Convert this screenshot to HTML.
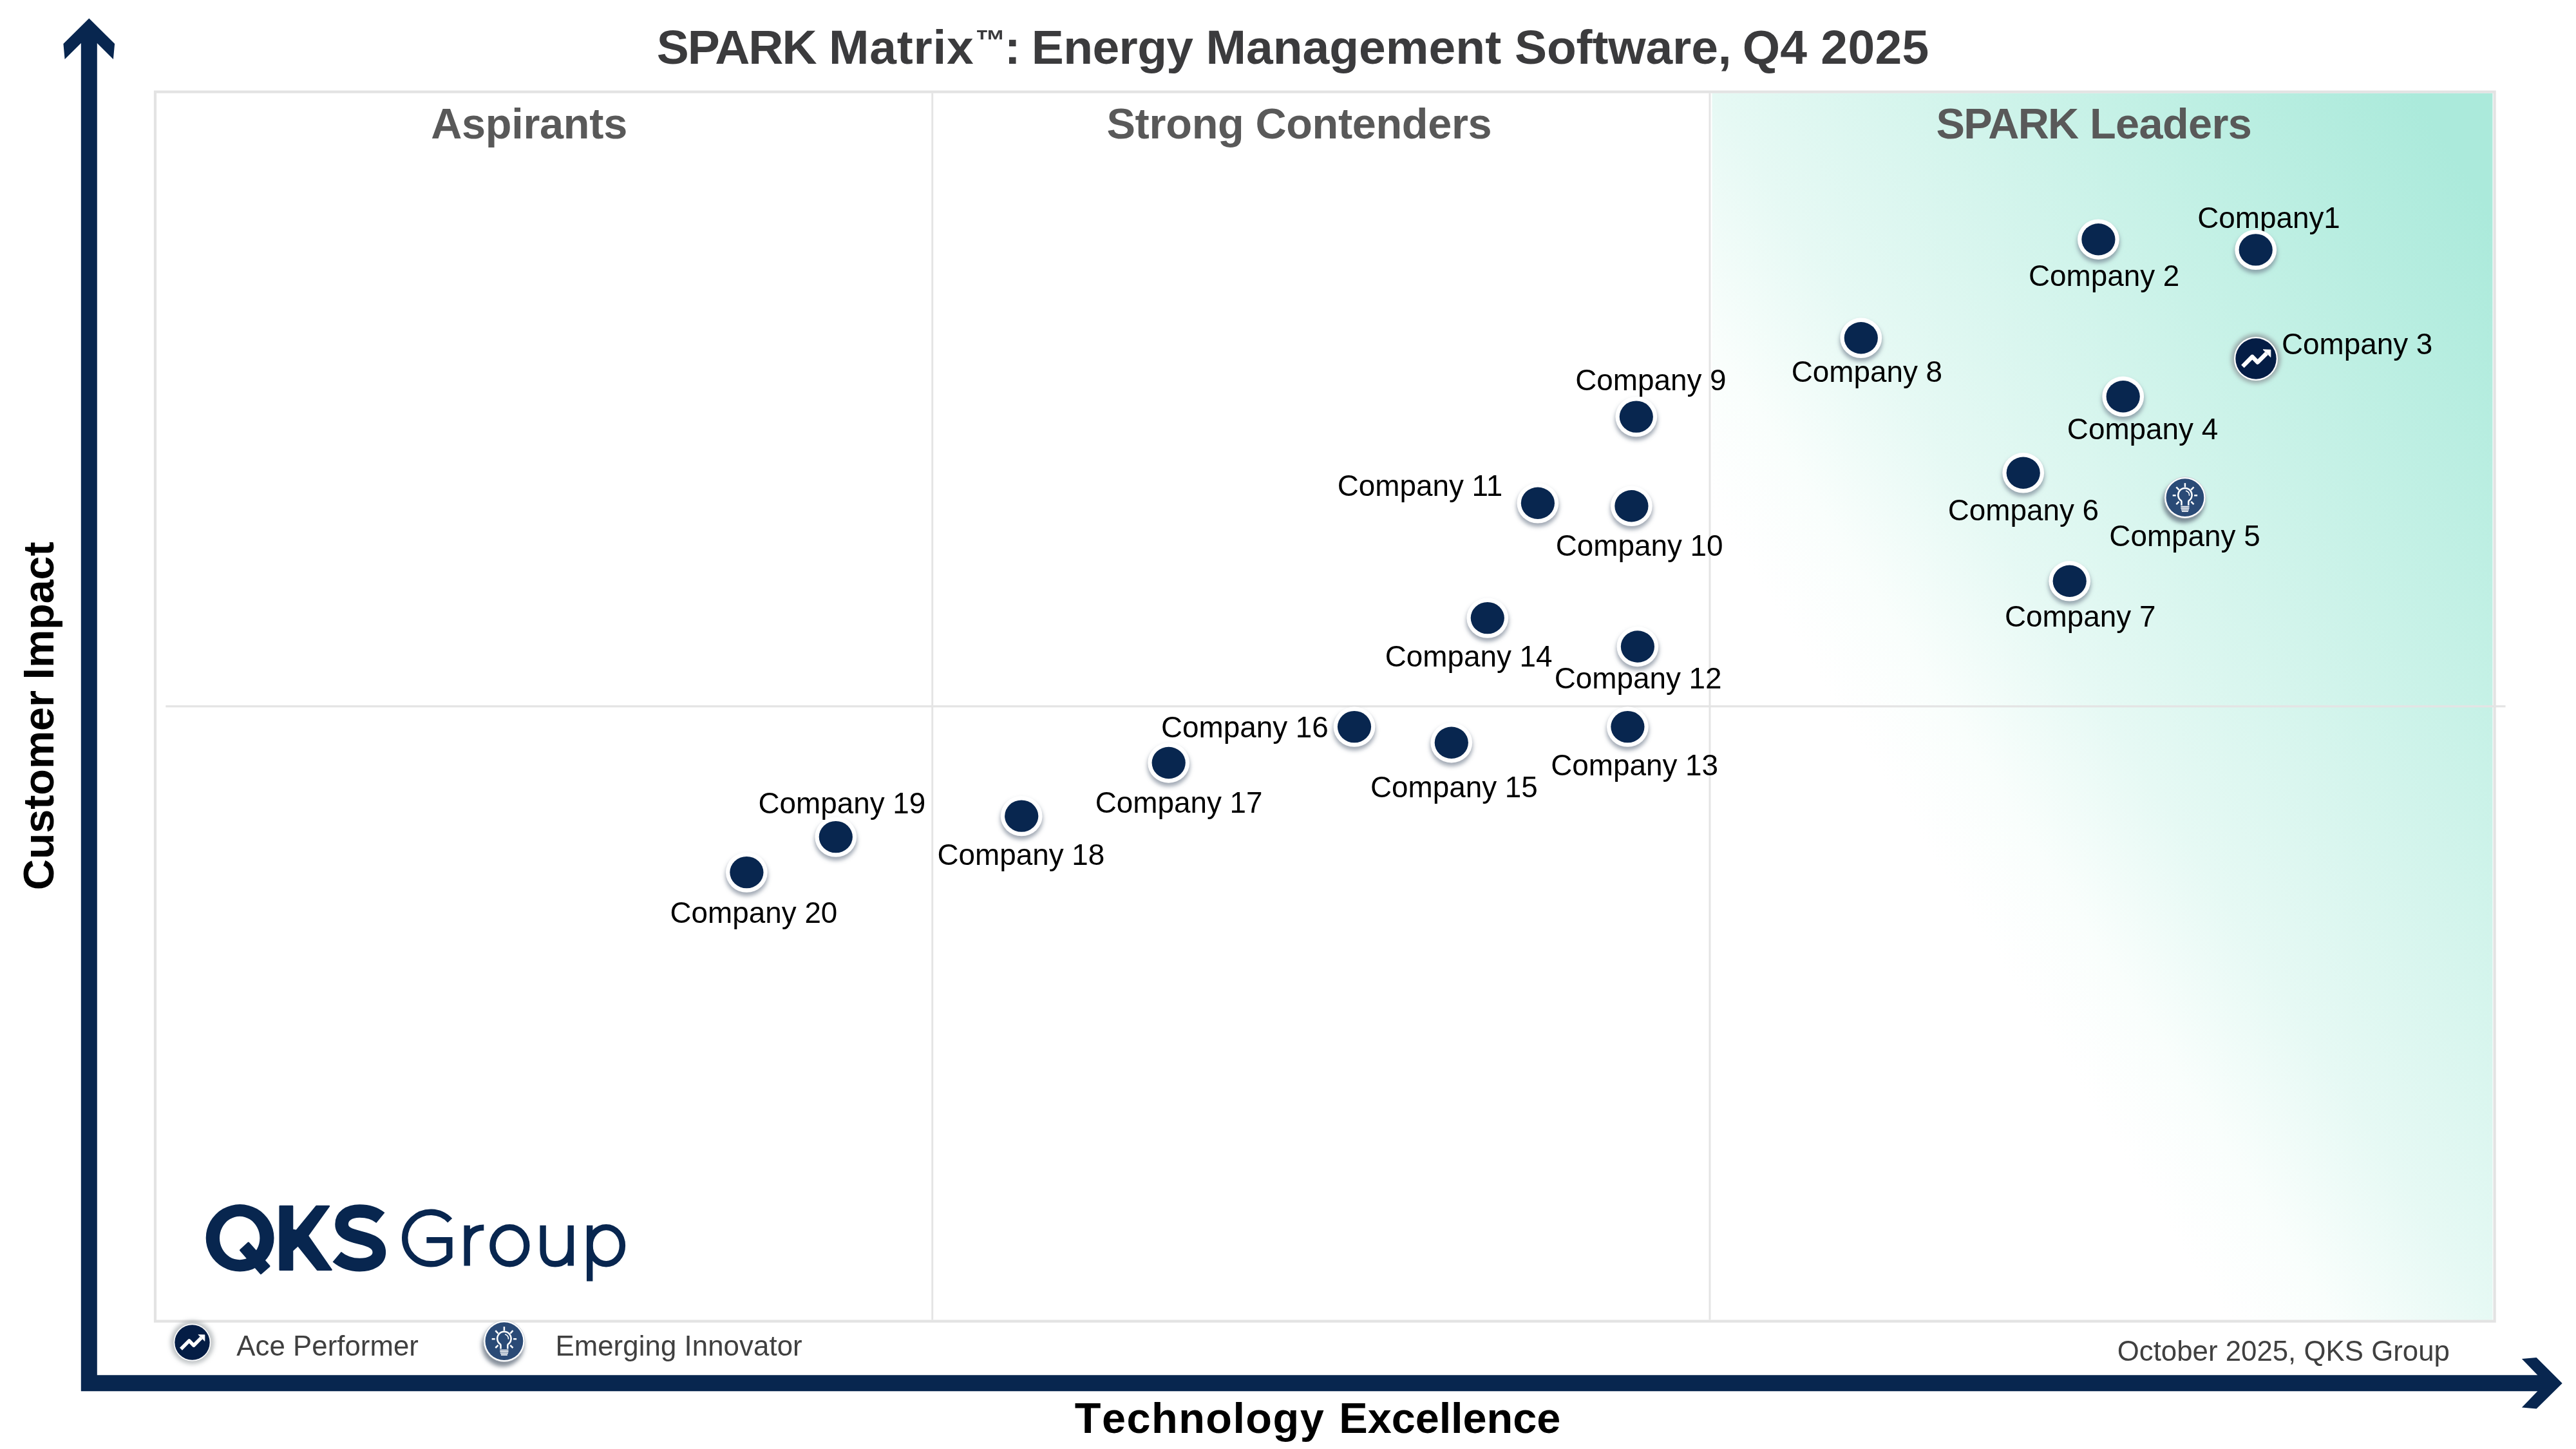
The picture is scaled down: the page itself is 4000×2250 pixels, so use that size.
<!DOCTYPE html>
<html><head><meta charset="utf-8"><title>SPARK Matrix</title>
<style>
html,body{margin:0;padding:0;background:#fff;}
body{width:4000px;height:2250px;position:relative;overflow:hidden;font-family:"Liberation Sans",sans-serif;}
</style></head><body>
<svg width="4000" height="2250" viewBox="0 0 4000 2250" style="position:absolute;left:0;top:0;will-change:transform"><defs>
<linearGradient id="lead" x1="0" y1="1" x2="1" y2="0">
<stop offset="0" stop-color="#ffffff"/>
<stop offset="0.33" stop-color="#ffffff"/>
<stop offset="0.4" stop-color="#f9fefc"/>
<stop offset="0.5" stop-color="#e6f9f4"/>
<stop offset="0.75" stop-color="#c5f1e6"/>
<stop offset="0.95" stop-color="#abeadb"/>
<stop offset="1" stop-color="#abeadb"/>
</linearGradient>
<filter id="bl_dot" x="-50%" y="-50%" width="200%" height="200%"><feGaussianBlur stdDeviation="3.1"/></filter>
<filter id="bl_ace" x="-50%" y="-50%" width="200%" height="200%"><feGaussianBlur stdDeviation="3.2"/></filter>
<filter id="bl_bulb" x="-50%" y="-50%" width="200%" height="200%"><feGaussianBlur stdDeviation="3.0"/></filter>
</defs><rect x="2658.5" y="144.6" width="1212" height="1905.2" fill="url(#lead)"/><rect x="241" y="142.6" width="3632.6" height="1909" fill="none" stroke="#e3e3e3" stroke-width="4.2"/><rect x="1446.3" y="144.6" width="2.9" height="1905" fill="#e4e4e4"/><rect x="2653.5" y="144.6" width="2.9" height="1905" fill="#e4e4e4"/><rect x="257.3" y="1095.2" width="3633.2" height="3.2" fill="#e4e4e4"/><polygon fill="#08264f" points="138.3,28.5 178.1,67.9 175.9,91.9 150.8,67.1 150.8,2135.3 3940.3,2135.3 3915.9,2110 3938.6,2107.9 3978.7,2148 3938.6,2187.6 3915.9,2185.6 3940.3,2160.3 125.8,2160.3 125.8,67.1 100.6,91.9 98.4,67.9"/><g font-family="'Liberation Sans', sans-serif"><text x="3412.22" y="354.30" font-size="45.83" fill="#000">Company1</text><text x="3149.92" y="443.70" font-size="45.83" fill="#000">Company 2</text><text x="3542.92" y="549.50" font-size="45.83" fill="#000">Company 3</text><text x="3209.82" y="681.50" font-size="45.83" fill="#000">Company 4</text><text x="3275.32" y="848.40" font-size="45.83" fill="#000">Company 5</text><text x="3024.72" y="808.40" font-size="45.83" fill="#000">Company 6</text><text x="3113.02" y="972.70" font-size="45.83" fill="#000">Company 7</text><text x="2781.72" y="593.30" font-size="45.83" fill="#000">Company 8</text><text x="2446.22" y="605.50" font-size="45.83" fill="#000">Company 9</text><text x="2415.72" y="862.50" font-size="45.83" fill="#000">Company 10</text><text x="2076.72" y="769.50" font-size="45.83" fill="#000">Company 11</text><text x="2413.72" y="1069.00" font-size="45.83" fill="#000">Company 12</text><text x="2408.22" y="1204.30" font-size="45.83" fill="#000">Company 13</text><text x="2150.72" y="1035.20" font-size="45.83" fill="#000">Company 14</text><text x="2127.92" y="1238.10" font-size="45.83" fill="#000">Company 15</text><text x="1802.92" y="1144.80" font-size="45.83" fill="#000">Company 16</text><text x="1700.72" y="1262.30" font-size="45.83" fill="#000">Company 17</text><text x="1455.42" y="1343.10" font-size="45.83" fill="#000">Company 18</text><text x="1177.42" y="1262.50" font-size="45.83" fill="#000">Company 19</text><text x="1040.52" y="1432.70" font-size="45.83" fill="#000">Company 20</text></g><ellipse cx="3502.7" cy="392.9" rx="33.2" ry="31.8" fill="#6a7688" fill-opacity="0.62" filter="url(#bl_dot)"/><ellipse cx="3502.7" cy="387.9" rx="32.4" ry="31.2" fill="#fff"/><ellipse cx="3502.7" cy="387.9" rx="26.1" ry="24.7" fill="#08264f"/><ellipse cx="3258.4" cy="376.7" rx="33.2" ry="31.8" fill="#6a7688" fill-opacity="0.62" filter="url(#bl_dot)"/><ellipse cx="3258.4" cy="371.7" rx="32.4" ry="31.2" fill="#fff"/><ellipse cx="3258.4" cy="371.7" rx="26.1" ry="24.7" fill="#08264f"/><ellipse cx="3296.7" cy="620.8" rx="33.2" ry="31.8" fill="#6a7688" fill-opacity="0.62" filter="url(#bl_dot)"/><ellipse cx="3296.7" cy="615.8" rx="32.4" ry="31.2" fill="#fff"/><ellipse cx="3296.7" cy="615.8" rx="26.1" ry="24.7" fill="#08264f"/><ellipse cx="3141.7" cy="739.3" rx="33.2" ry="31.8" fill="#6a7688" fill-opacity="0.62" filter="url(#bl_dot)"/><ellipse cx="3141.7" cy="734.3" rx="32.4" ry="31.2" fill="#fff"/><ellipse cx="3141.7" cy="734.3" rx="26.1" ry="24.7" fill="#08264f"/><ellipse cx="3213.7" cy="907.3" rx="33.2" ry="31.8" fill="#6a7688" fill-opacity="0.62" filter="url(#bl_dot)"/><ellipse cx="3213.7" cy="902.3" rx="32.4" ry="31.2" fill="#fff"/><ellipse cx="3213.7" cy="902.3" rx="26.1" ry="24.7" fill="#08264f"/><ellipse cx="2889.8" cy="529.8" rx="33.2" ry="31.8" fill="#6a7688" fill-opacity="0.62" filter="url(#bl_dot)"/><ellipse cx="2889.8" cy="524.8" rx="32.4" ry="31.2" fill="#fff"/><ellipse cx="2889.8" cy="524.8" rx="26.1" ry="24.7" fill="#08264f"/><ellipse cx="2540.8" cy="652.1" rx="33.2" ry="31.8" fill="#6a7688" fill-opacity="0.62" filter="url(#bl_dot)"/><ellipse cx="2540.8" cy="647.1" rx="32.4" ry="31.2" fill="#fff"/><ellipse cx="2540.8" cy="647.1" rx="26.1" ry="24.7" fill="#08264f"/><ellipse cx="2533.4" cy="790.8" rx="33.2" ry="31.8" fill="#6a7688" fill-opacity="0.62" filter="url(#bl_dot)"/><ellipse cx="2533.4" cy="785.8" rx="32.4" ry="31.2" fill="#fff"/><ellipse cx="2533.4" cy="785.8" rx="26.1" ry="24.7" fill="#08264f"/><ellipse cx="2387.9" cy="786.3" rx="33.2" ry="31.8" fill="#6a7688" fill-opacity="0.62" filter="url(#bl_dot)"/><ellipse cx="2387.9" cy="781.3" rx="32.4" ry="31.2" fill="#fff"/><ellipse cx="2387.9" cy="781.3" rx="26.1" ry="24.7" fill="#08264f"/><ellipse cx="2542.9" cy="1009.0" rx="33.2" ry="31.8" fill="#6a7688" fill-opacity="0.62" filter="url(#bl_dot)"/><ellipse cx="2542.9" cy="1004.0" rx="32.4" ry="31.2" fill="#fff"/><ellipse cx="2542.9" cy="1004.0" rx="26.1" ry="24.7" fill="#08264f"/><ellipse cx="2527.4" cy="1133.6" rx="33.2" ry="31.8" fill="#6a7688" fill-opacity="0.62" filter="url(#bl_dot)"/><ellipse cx="2527.4" cy="1128.6" rx="32.4" ry="31.2" fill="#fff"/><ellipse cx="2527.4" cy="1128.6" rx="26.1" ry="24.7" fill="#08264f"/><ellipse cx="2309.8" cy="964.6" rx="33.2" ry="31.8" fill="#6a7688" fill-opacity="0.62" filter="url(#bl_dot)"/><ellipse cx="2309.8" cy="959.6" rx="32.4" ry="31.2" fill="#fff"/><ellipse cx="2309.8" cy="959.6" rx="26.1" ry="24.7" fill="#08264f"/><ellipse cx="2253.8" cy="1158.2" rx="33.2" ry="31.8" fill="#6a7688" fill-opacity="0.62" filter="url(#bl_dot)"/><ellipse cx="2253.8" cy="1153.2" rx="32.4" ry="31.2" fill="#fff"/><ellipse cx="2253.8" cy="1153.2" rx="26.1" ry="24.7" fill="#08264f"/><ellipse cx="2103.0" cy="1133.6" rx="33.2" ry="31.8" fill="#6a7688" fill-opacity="0.62" filter="url(#bl_dot)"/><ellipse cx="2103.0" cy="1128.6" rx="32.4" ry="31.2" fill="#fff"/><ellipse cx="2103.0" cy="1128.6" rx="26.1" ry="24.7" fill="#08264f"/><ellipse cx="1814.7" cy="1189.5" rx="33.2" ry="31.8" fill="#6a7688" fill-opacity="0.62" filter="url(#bl_dot)"/><ellipse cx="1814.7" cy="1184.5" rx="32.4" ry="31.2" fill="#fff"/><ellipse cx="1814.7" cy="1184.5" rx="26.1" ry="24.7" fill="#08264f"/><ellipse cx="1586.2" cy="1272.1" rx="33.2" ry="31.8" fill="#6a7688" fill-opacity="0.62" filter="url(#bl_dot)"/><ellipse cx="1586.2" cy="1267.1" rx="32.4" ry="31.2" fill="#fff"/><ellipse cx="1586.2" cy="1267.1" rx="26.1" ry="24.7" fill="#08264f"/><ellipse cx="1297.8" cy="1304.6" rx="33.2" ry="31.8" fill="#6a7688" fill-opacity="0.62" filter="url(#bl_dot)"/><ellipse cx="1297.8" cy="1299.6" rx="32.4" ry="31.2" fill="#fff"/><ellipse cx="1297.8" cy="1299.6" rx="26.1" ry="24.7" fill="#08264f"/><ellipse cx="1159.4" cy="1359.6" rx="33.2" ry="31.8" fill="#6a7688" fill-opacity="0.62" filter="url(#bl_dot)"/><ellipse cx="1159.4" cy="1354.6" rx="32.4" ry="31.2" fill="#fff"/><ellipse cx="1159.4" cy="1354.6" rx="26.1" ry="24.7" fill="#08264f"/><circle cx="3503.0" cy="557.0" r="38.50" fill="#8b9195" fill-opacity="0.72" filter="url(#bl_ace)"/><circle cx="3503.0" cy="557.0" r="34.00" fill="#fff"/><circle cx="3503.0" cy="557.0" r="31.70" fill="#041d45"/><path d="M3482.40,569.00 L3497.40,553.90 L3505.60,562.50 L3519.50,548.60" fill="none" stroke="#fff" stroke-width="6.50" stroke-linejoin="round" stroke-linecap="butt"/><polygon points="3514.00,542.80 3525.90,543.20 3525.90,554.60" fill="#fff" stroke="#fff" stroke-width="0.80" stroke-linejoin="round"/><circle cx="3390.9" cy="779.2" r="32.90" fill="#5e6878" fill-opacity="0.75" filter="url(#bl_bulb)"/><circle cx="3392.9" cy="772.7" r="32.00" fill="#fff" stroke="#c3c9d0" stroke-width="0.8"/><circle cx="3392.9" cy="772.7" r="29.40" fill="#2a4a76"/><g fill="none" stroke="#fff" stroke-width="2.50" stroke-linecap="butt"><path d="M3387.50,784.70 L3387.50,779.07 L3387.07,777.57 A10.70,10.70 0 1 1 3398.73,777.57 L3398.30,779.07 L3398.30,784.70"/><path d="M3394.05,762.10 A6.60,6.60 0 0 1 3399.40,769.75" stroke-width="1.60"/><path d="M3392.90,750.10 L3392.90,756.50"/><path d="M3373.70,769.30 L3378.70,769.30"/><path d="M3407.10,769.30 L3412.10,769.30"/><path d="M3379.30,756.30 L3383.50,760.70"/><path d="M3406.50,756.30 L3402.30,760.70"/><path d="M3379.30,783.10 L3383.50,778.90"/><path d="M3406.50,783.10 L3402.30,778.90"/></g><g stroke="#fff" stroke-width="1.70" fill="none"><path d="M3386.30,786.60 L3399.50,786.60"/><path d="M3386.30,789.10 L3399.50,789.10"/><path d="M3386.90,791.60 L3398.90,791.60"/><path d="M3387.90,794.00 L3397.90,794.00"/></g><circle cx="298.5" cy="2084.5" r="33.90" fill="#8b9195" fill-opacity="0.52" filter="url(#bl_ace)"/><circle cx="298.5" cy="2084.5" r="28.90" fill="#fff"/><circle cx="298.5" cy="2084.5" r="27.20" fill="#041d45"/><path d="M280.99,2094.70 L293.74,2081.86 L300.71,2089.18 L312.52,2077.36" fill="none" stroke="#fff" stroke-width="5.52" stroke-linejoin="round" stroke-linecap="butt"/><polygon points="307.85,2072.43 317.96,2072.77 317.96,2082.46" fill="#fff" stroke="#fff" stroke-width="0.68" stroke-linejoin="round"/><circle cx="780.9" cy="2089.1" r="32.90" fill="#5e6878" fill-opacity="0.75" filter="url(#bl_bulb)"/><circle cx="782.9" cy="2082.6" r="32.00" fill="#fff" stroke="#c3c9d0" stroke-width="0.8"/><circle cx="782.9" cy="2082.6" r="29.40" fill="#2a4a76"/><g fill="none" stroke="#fff" stroke-width="2.50" stroke-linecap="butt"><path d="M777.50,2094.60 L777.50,2088.97 L777.07,2087.47 A10.70,10.70 0 1 1 788.73,2087.47 L788.30,2088.97 L788.30,2094.60"/><path d="M784.05,2072.00 A6.60,6.60 0 0 1 789.40,2079.65" stroke-width="1.60"/><path d="M782.90,2060.00 L782.90,2066.40"/><path d="M763.70,2079.20 L768.70,2079.20"/><path d="M797.10,2079.20 L802.10,2079.20"/><path d="M769.30,2066.20 L773.50,2070.60"/><path d="M796.50,2066.20 L792.30,2070.60"/><path d="M769.30,2093.00 L773.50,2088.80"/><path d="M796.50,2093.00 L792.30,2088.80"/></g><g stroke="#fff" stroke-width="1.70" fill="none"><path d="M776.30,2096.50 L789.50,2096.50"/><path d="M776.30,2099.00 L789.50,2099.00"/><path d="M776.90,2101.50 L788.90,2101.50"/><path d="M777.90,2103.90 L787.90,2103.90"/></g><g fill="#08264f"><path fill-rule="evenodd" d="M372.6,1870.1 a52.9,52.2 0 1 0 0.01,0 Z M372.2,1888.8 a31.2,33.7 0 1 1 -0.01,0 Z"/><polygon points="385.7,1930.1 418,1966.1 405,1977.3 373.5,1941.3" stroke="#08264f" stroke-width="3" stroke-linejoin="round"/><polygon stroke="#08264f" stroke-width="2.4" stroke-linejoin="round" points="434.7,1872.9 454.1,1872.9 454.1,1909.6 460.2,1910.9 491.3,1872.9 511.0,1872.9 477.9,1918.9 514.6,1971.8 492.9,1971.8 462.7,1933.9 454.1,1941.9 454.1,1971.8 434.7,1971.8"/></g><path d="M590.9,1891 C583,1884.5 571,1880.5 558.4,1880.5 C541,1880.5 530.6,1889 530.6,1900.9 C530.6,1914 543,1918 559.6,1922 C577,1926.3 588.8,1931 588.8,1944.4 C588.8,1957 576,1964.1 558.4,1964.1 C544,1964.1 532,1959 523.2,1951.6" fill="none" stroke="#08264f" stroke-width="20.6"/><g fill="none" stroke="#08264f" stroke-width="9.4"><path d="M698.66,1895.22 A40.3,40.3 0 1 0 697.80,1950.69 L697.80,1925.6 L662.4,1925.6" stroke-linejoin="miter"/><path d="M725.2,1965.5 V1902.8 M725.2,1932 C725.2,1915 736,1906.1 751.3,1906.1"/><ellipse cx="791.4" cy="1934.2" rx="26.4" ry="28.6"/><path d="M843.1,1902.8 V1941 C843.1,1955 850,1962.8 862,1962.8 C875,1962.8 886.2,1953 886.2,1938 M886.2,1902.8 V1965.5"/><path d="M915.7,1902.8 V1989.5"/><ellipse cx="941.2" cy="1934.2" rx="25.2" ry="28.6"/></g><g font-family="'Liberation Sans', sans-serif"><text x="1019.70" y="99.20" font-size="75" fill="#3b3b3d" font-weight="bold" style="letter-spacing:-2.000px;" >SPARK</text><text x="1287.10" y="99.20" font-size="75" fill="#3b3b3d" font-weight="bold" style="letter-spacing:0.740px;" >Matrix</text><text x="1559.80" y="99.20" font-size="75" fill="#3b3b3d" font-weight="bold" style="" >:</text><text x="1601.80" y="99.20" font-size="75" fill="#3b3b3d" font-weight="bold" style="letter-spacing:-0.600px;" >Energy</text><text x="1872.50" y="99.20" font-size="75" fill="#3b3b3d" font-weight="bold" style="letter-spacing:0.020px;" >Management</text><text x="2352.00" y="99.20" font-size="75" fill="#3b3b3d" font-weight="bold" style="letter-spacing:-0.125px;" >Software,</text><text x="2705.80" y="99.20" font-size="75" fill="#3b3b3d" font-weight="bold" style="letter-spacing:0.200px;" >Q4</text><text x="2827.30" y="99.20" font-size="75" fill="#3b3b3d" font-weight="bold" style="letter-spacing:0.370px;" >2025</text><text x="1514.00" y="77.60" font-size="45" fill="#3b3b3d" font-weight="bold" style="" textLength="47.6" lengthAdjust="spacingAndGlyphs">™</text><text x="669.13" y="215.30" font-size="66.67" fill="#595959" font-weight="bold" style="letter-spacing:-0.290px;" >Aspirants</text><text x="1718.40" y="215.30" font-size="66.67" fill="#595959" font-weight="bold" style="letter-spacing:-0.266px;" >Strong</text><text x="1949.44" y="215.30" font-size="66.67" fill="#595959" font-weight="bold" style="letter-spacing:-0.360px;" >Contenders</text><text x="3006.60" y="215.20" font-size="66.67" fill="#595959" font-weight="bold" style="letter-spacing:-1.690px;" >SPARK</text><text x="3245.00" y="215.20" font-size="66.67" fill="#595959" font-weight="bold" style="letter-spacing:-0.630px;" >Leaders</text><text x="1668.85" y="2225.20" font-size="66.67" fill="#000" font-weight="bold" style="letter-spacing:1.428px;font-kerning:none;" >Technology</text><text x="2079.30" y="2225.20" font-size="66.67" fill="#000" font-weight="bold" style="letter-spacing:-0.080px;" >Excellence</text><g transform="translate(83.2,0) rotate(-90)"><text x="-1382.36" y="0.00" font-size="66.67" fill="#000" font-weight="bold" style="letter-spacing:-0.119px;" >Customer</text><text x="-1055.40" y="0.00" font-size="66.67" fill="#000" font-weight="bold" style="letter-spacing:-0.148px;" >Impact</text></g><text x="367.30" y="2105.10" font-size="43.75" fill="#404040" font-weight="normal" style="letter-spacing:0.047px;" >Ace Performer</text><text x="862.40" y="2105.10" font-size="43.75" fill="#404040" font-weight="normal" style="letter-spacing:0.083px;" >Emerging Innovator</text><text x="3287.70" y="2113.10" font-size="43.75" fill="#404040" font-weight="normal" style="letter-spacing:0.027px;" >October 2025, QKS Group</text></g></svg>
</body></html>
